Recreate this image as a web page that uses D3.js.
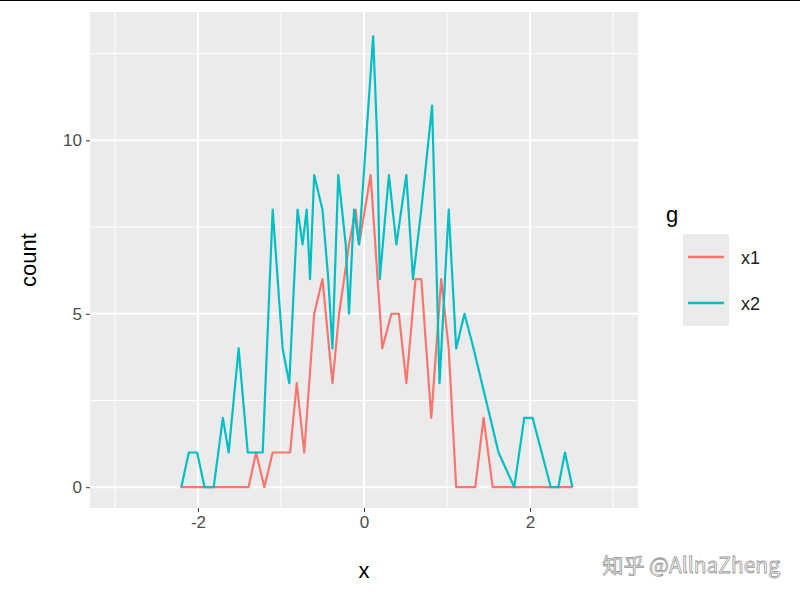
<!DOCTYPE html>
<html><head><meta charset="utf-8">
<script src="https://cdn.jsdelivr.net/npm/d3@7"></script>
<style>body{margin:0;background:#fff;font-family:Arial,"Liberation Sans",sans-serif}</style>
</head><body><div id="chart"></div>
<script>
// x positions and counts
const x1X = [-2.21,-1.39,-1.3,-1.2,-1.1,-0.89,-0.81,-0.72,-0.6,-0.5,-0.38,-0.3,-0.18,-0.1,-0.06,0.08,0.22,0.33,0.42,0.51,0.62,0.69,0.75,0.81,0.93,1.02,1.11,1.34,1.44,1.55,2.51];
const x1Y = [0,0,1,0,1,1,3,1,5,6,3,5,7,8,7,9,4,5,5,3,6,6,4,2,6,4,0,0,2,0,0];
const x2X = [-2.2,-2.11,-2.01,-1.92,-1.81,-1.7,-1.63,-1.51,-1.4,-1.22,-1.1,-0.98,-0.9,-0.8,-0.74,-0.69,-0.65,-0.6,-0.5,-0.43,-0.38,-0.31,-0.22,-0.18,-0.12,-0.06,0.11,0.16,0.19,0.3,0.39,0.51,0.59,0.69,0.82,0.91,1.02,1.11,1.21,1.32,1.42,1.52,1.62,1.81,1.93,2.03,2.25,2.34,2.42,2.51];
const x2Y = [0,1,1,0,0,2,1,4,1,1,8,4,3,8,7,8,6,9,8,6,4,9,7,5,8,7,13,10,6,9,7,9,6,8,11,3,8,4,5,4,3,2,1,0,2,2,0,0,1,0];
const groups = ["x1","x2"];
const colors = ["#F8766D","#00BFC4"];
const xTicks = [-2,0,2];
const yTicks = [0,5,10];

const W = 800, H = 600;
const m = {left:90, right:162, top:12, bottom:92};
const svg = d3.select("#chart").append("svg").attr("width",W).attr("height",H);
svg.append("line").attr("x1",0).attr("x2",W).attr("y1",0.5).attr("y2",0.5).attr("stroke","#000");

const x = d3.scaleLinear().domain([-3.3,3.3]).range([m.left, W-m.right]);
const y = d3.scaleLinear().domain([-0.6,13.7]).range([H-m.bottom, m.top]);

svg.append("rect").attr("x",m.left).attr("y",m.top)
  .attr("width",W-m.right-m.left).attr("height",H-m.bottom-m.top).attr("fill","#EBEBEB");

const g = svg.append("g");
[-3,-1,1,3].forEach(v=>g.append("line").attr("x1",x(v)).attr("x2",x(v)).attr("y1",m.top).attr("y2",H-m.bottom).attr("stroke","#fff").attr("stroke-width",1));
[2.5,7.5,12.5].forEach(v=>g.append("line").attr("y1",y(v)).attr("y2",y(v)).attr("x1",m.left).attr("x2",W-m.right).attr("stroke","#fff").attr("stroke-width",1));
xTicks.forEach(v=>g.append("line").attr("x1",x(v)).attr("x2",x(v)).attr("y1",m.top).attr("y2",H-m.bottom).attr("stroke","#fff").attr("stroke-width",2));
yTicks.forEach(v=>g.append("line").attr("y1",y(v)).attr("y2",y(v)).attr("x1",m.left).attr("x2",W-m.right).attr("stroke","#fff").attr("stroke-width",2));

const line = d3.line().x(d=>x(d[0])).y(d=>y(d[1]));
const series = [d3.zip(x1X,x1Y), d3.zip(x2X,x2Y)];
series.forEach((s,i)=>svg.append("path").datum(s).attr("d",line)
  .attr("fill","none").attr("stroke",colors[i]).attr("stroke-width",2.2).attr("stroke-linejoin","round"));

const xa = svg.append("g").attr("transform",`translate(0,${H-m.bottom})`)
  .call(d3.axisBottom(x).tickValues(xTicks).tickSize(4).tickPadding(4).tickFormat(d=>String(d)));
const ya = svg.append("g").attr("transform",`translate(${m.left},0)`)
  .call(d3.axisLeft(y).tickValues(yTicks).tickSize(4).tickPadding(4).tickFormat(d=>String(d)));
[xa,ya].forEach(a=>{a.select(".domain").remove();a.selectAll("line").attr("stroke","#333");
  a.selectAll("text").attr("fill","#4D4D4D").style("font-size","17px").style("font-family","Arial,'Liberation Sans'");});

svg.append("text").attr("x",(m.left+W-m.right)/2).attr("y",578).attr("text-anchor","middle")
  .style("font-size","22px").text("x");
svg.append("text").attr("transform",`translate(36,${(m.top+H-m.bottom)/2}) rotate(-90)`)
  .attr("text-anchor","middle").style("font-size","22px").text("count");

// legend
svg.append("text").attr("x",666).attr("y",222).style("font-size","22px").text("g");
groups.forEach((k,i)=>{
  const yy = 234 + i*46;
  svg.append("rect").attr("x",683).attr("y",yy).attr("width",46).attr("height",46).attr("fill","#EBEBEB");
  svg.append("line").attr("x1",688).attr("x2",724).attr("y1",yy+23).attr("y2",yy+23)
    .attr("stroke",colors[i]).attr("stroke-width",2.5);
  svg.append("text").attr("x",741).attr("y",yy+30).style("font-size","18px").attr("fill","#222").text(k);
});

svg.append("text").attr("x",780).attr("y",573).attr("text-anchor","end")
  .style("font-size","21px").style("font-family","'Noto Sans CJK SC',sans-serif")
  .attr("fill","#fff").attr("stroke","#999").attr("stroke-width",0.8).text("知乎 @AllnaZheng");
</script></body></html>
